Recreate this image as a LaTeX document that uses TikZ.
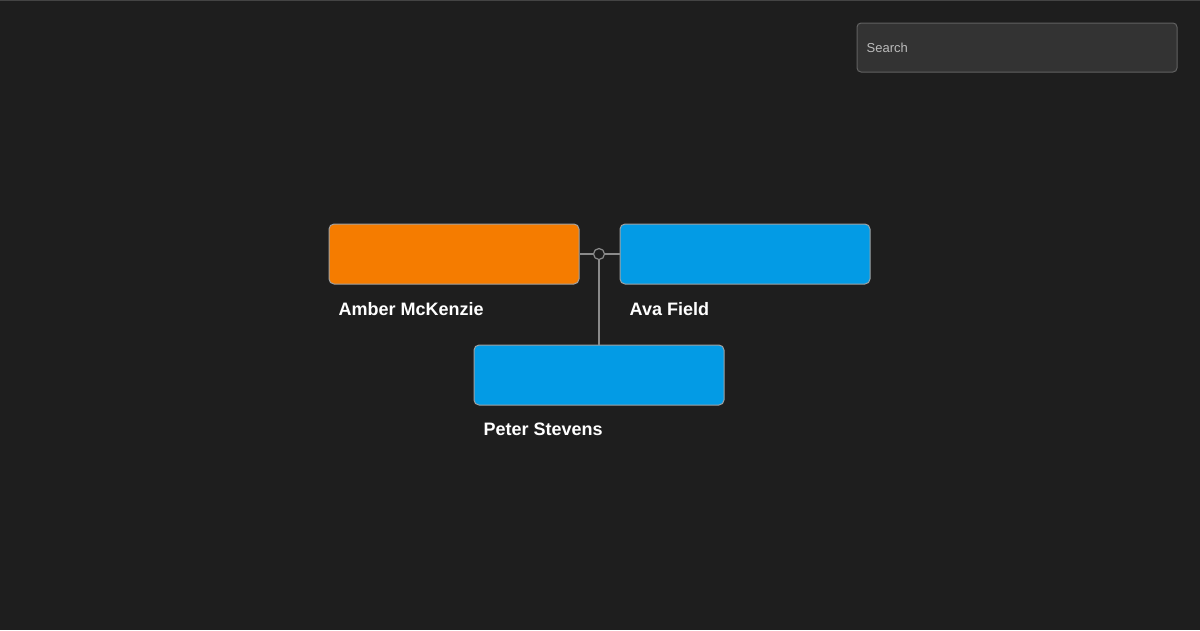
\documentclass[tikz,border=0pt]{standalone}
\usepackage{fontspec}
\setmainfont{Liberation Sans}
\usetikzlibrary{positioning}
\definecolor{bg}{HTML}{1E1E1E}
\definecolor{momc}{HTML}{F57C00}
\definecolor{kidc}{HTML}{039BE5}
\definecolor{edgec}{HTML}{8A8A8A}
\definecolor{searchc}{HTML}{333333}
\tikzset{
  person/.style ={draw=edgec!80, line width=1pt, rounded corners=5pt,
                  minimum width=250pt, minimum height=60pt, inner sep=0pt},
  pname/.style  ={font=\fontsize{18}{20}\selectfont\bfseries, text=white, inner sep=0pt},
  link/.style   ={draw=edgec, line width=1.2pt},
  knot/.style   ={circle, draw=edgec, line width=1.2pt, fill=bg, minimum size=11pt, inner sep=0pt}
}
\begin{document}
\begin{tikzpicture}[x=1pt,y=-1pt]
\fill[bg] (0,0) rectangle (1200,630);
\useasboundingbox (0,0) rectangle (1200,630);
\draw[white!17!bg, line width=1pt] (0,0.5) -- (1200,0.5);
% search field
\node[draw=white!30!bg, fill=searchc, rounded corners=4pt, line width=1pt,
      minimum width=320pt, minimum height=49pt, inner sep=0pt] (search) at (1017,47.5) {};
\node[anchor=west, font=\fontsize{13}{15}\selectfont, text=white!70!bg, inner sep=0pt]
      (searchtxt) at ([xshift=10pt]search.west) {Search};
% family
\node[person, fill=momc] (amber) at (454,254) {};
\node[person, fill=kidc] (ava) at (745,254) {};
\node[person, fill=kidc] (peter) at (599,375) {};
\node[pname, anchor=west] (amberlbl) at ([xshift=10pt,yshift=-25pt]amber.south west) {Amber McKenzie};
\node[pname, anchor=west] (avalbl) at ([xshift=10pt,yshift=-25pt]ava.south west) {Ava Field};
\node[pname, anchor=west] (peterlbl) at ([xshift=10pt,yshift=-24pt]peter.south west) {Peter Stevens};
\node[knot] (union) at (599,254) {};
\draw[link] (amber.east) -- (union.west);
\draw[link] (union.east) -- (ava.west);
\draw[link] (union.south) -- (peter.north);
\end{tikzpicture}
\end{document}
